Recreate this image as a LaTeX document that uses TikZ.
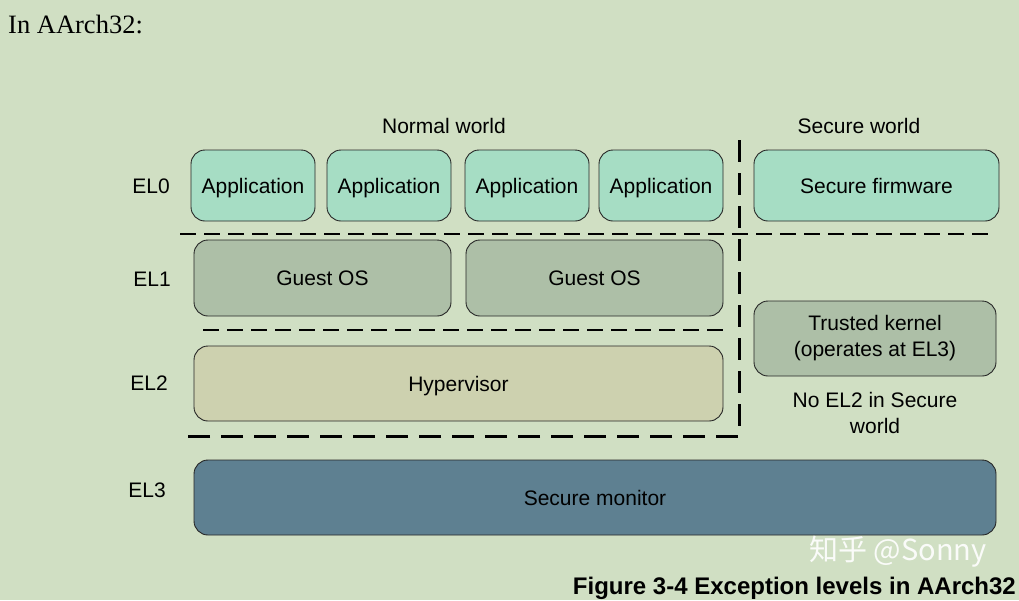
\documentclass[tikz,border=0pt]{standalone}
\usepackage{fontspec}
\setmainfont{Liberation Sans}
\newfontfamily\timesfont{Liberation Serif}
\newfontfamily\cjk{Noto Sans CJK SC}
\usepackage{tikz}
\usetikzlibrary{positioning}

\definecolor{bgcol}{RGB}{208,223,195}
\definecolor{appcol}{RGB}{166,221,196}
\definecolor{oscol}{RGB}{173,191,167}
\definecolor{hypcol}{RGB}{205,209,175}
\definecolor{moncol}{RGB}{94,128,145}

\begin{document}
\begin{tikzpicture}[x=1pt, y=-1pt,
  box/.style={draw=black!85, line width=0.9pt, rounded corners=14pt,
    minimum height=75pt, inner sep=0pt, align=center,
    font=\fontsize{21}{26}\selectfont},
  lbl/.style={font=\fontsize{21}{24}\selectfont, inner sep=0pt},
  thin dash/.style={line width=2pt, dash pattern=on 16pt off 8pt},
  thick dash/.style={line width=3pt, dash pattern=on 22pt off 11pt}]
  % Background
  \fill[bgcol] (0,0) rectangle (1019,600);
  \useasboundingbox (0,0) rectangle (1019,600);
  \node[anchor=base west, inner sep=0pt, font=\timesfont\fontsize{26.5}{30}\selectfont] (title) at (8,33) {In AArch32:};
  % World headings
  \node[lbl] (normal) at (444,126) {Normal world};
  \node[lbl] (secure) at (859,126) {Secure world};
  % Exception level labels
  \foreach \name/\y/\x in {0/186/151, 1/279/152, 2/383/149, 3/490/147} {
    \node[lbl] (el\name) at (\x,\y) {EL\name};
  }
  % EL0
  \foreach \i/\x in {1/253, 2/389, 3/527, 4/661} {
    \node[box, fill=appcol, minimum width=124pt, minimum height=71pt, text depth=0pt] (app\i) at (\x,185.5) {Application};
  }
  \node[box, fill=appcol, minimum width=245pt, minimum height=71pt] (fw) at (876.5,185.5) {Secure firmware};
  % EL1
  \node[box, fill=oscol, minimum width=257pt, minimum height=76pt] (guest1) at (322.5,278) {Guest OS};
  \node[box, fill=oscol, minimum width=257pt, minimum height=76pt] (guest2) at (594.5,278) {Guest OS};
  \node[box, fill=oscol, minimum width=242pt] (tk) at (875,338.5) {Trusted kernel\\(operates at EL3)};
  % EL2
  \node[box, fill=hypcol, minimum width=529pt, text depth=0pt] (hyp) at (458.5,383.5) {Hypervisor};
  \node[lbl, align=center, font=\fontsize{21}{26}\selectfont] (noel2) at (875,413) {No EL2 in Secure\\world};
  % EL3
  \node[box, fill=moncol, minimum width=802pt] (mon) at (595,497.5) {Secure monitor};
  % Separators
  \draw[thin dash] (180,234) -- (988,234);
  \draw[thin dash] (203,330) -- (723,330);
  \draw[thick dash] (739,140) -- (739,436) -- (187,436);
  % Watermark and caption
  \node[text=white, opacity=0.9, inner sep=0pt, font=\cjk\fontsize{29}{30}\selectfont] (mark) at (898,552) {知乎 @Sonny};
  \node[anchor=base east, inner sep=0pt, font=\bfseries\fontsize{24}{26}\selectfont] (caption) at (1016,594) {Figure 3-4 Exception levels in AArch32};
\end{tikzpicture}
\end{document}
